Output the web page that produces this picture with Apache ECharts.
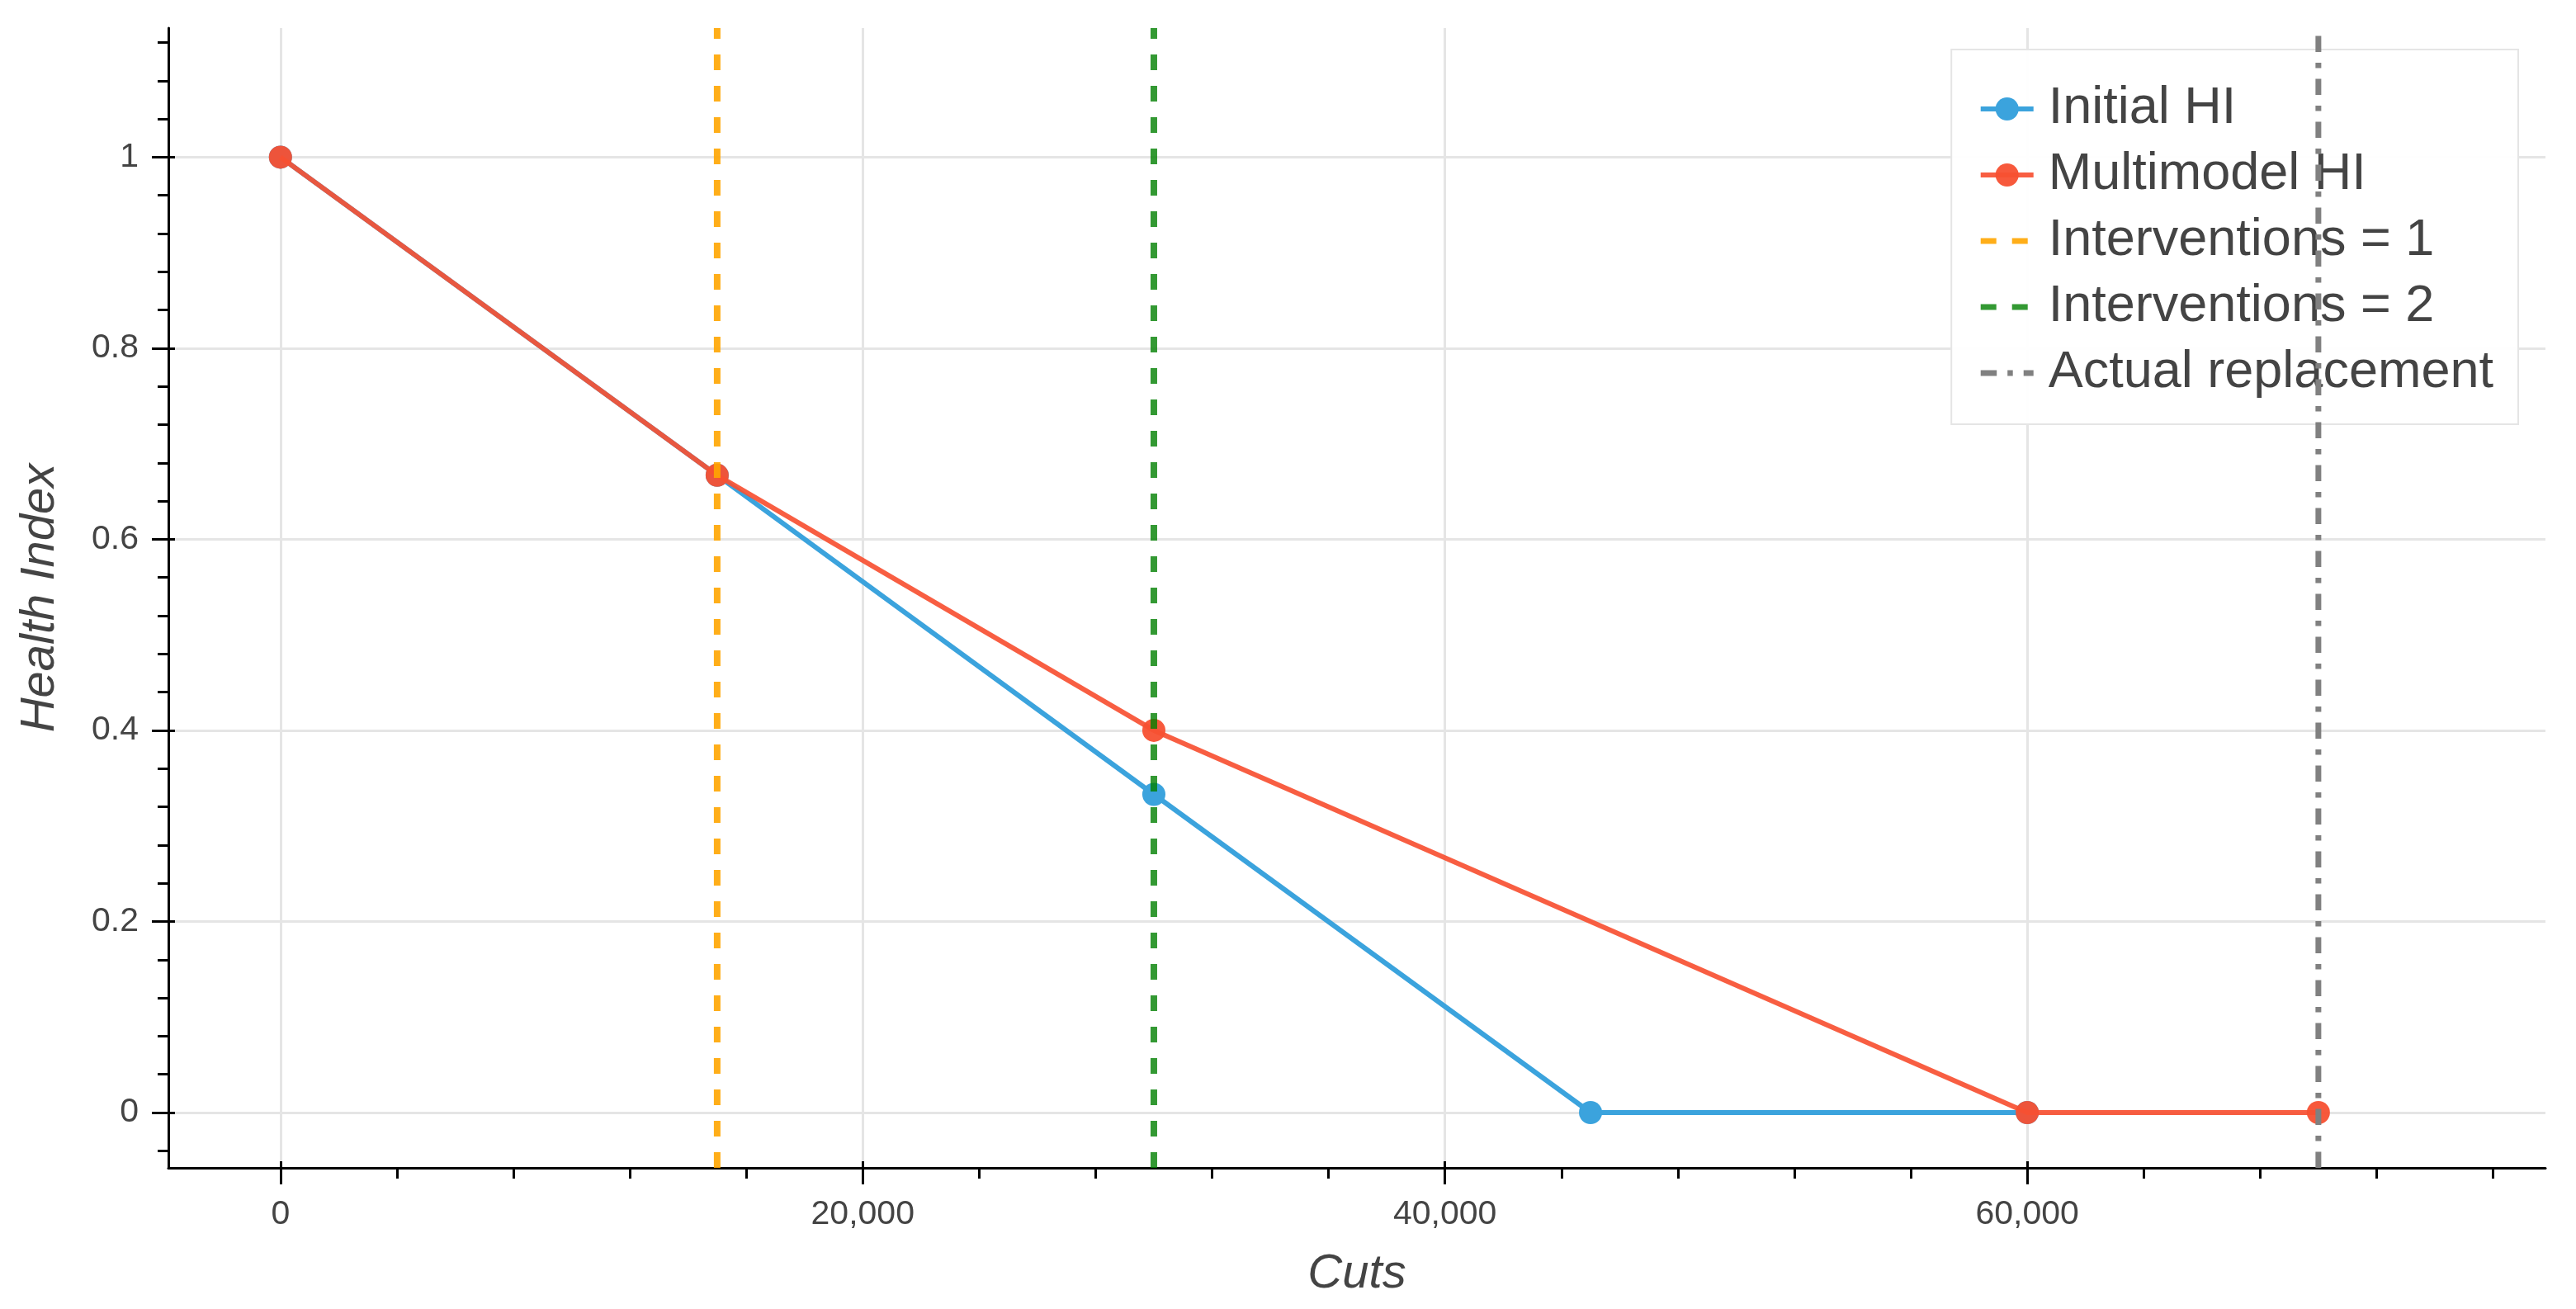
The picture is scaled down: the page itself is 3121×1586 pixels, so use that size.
<!DOCTYPE html>
<html>
<head>
<meta charset="utf-8">
<script src="https://cdn.jsdelivr.net/npm/echarts@6/dist/echarts.min.js"></script>
<style>
  html, body { margin: 0; padding: 0; background: #fff; }
  #chart { width: 3121px; height: 1586px; }
</style>
</head>
<body>
<div id="chart"></div>
<script>
// ---- data ----
const initialCuts = [0, 15000, 30000, 45000, 60000];
const initialHI = [1, 0.667, 0.333, 0, 0];
const multimodelCuts = [0, 15000, 30000, 60000, 70000];
const multimodelHI = [1, 0.667, 0.4, 0, 0];
const intervention1Cut = 15000;
const intervention2Cut = 30000;
const replacementCut = 70000;
const xTickValues = [0, 20000, 40000, 60000];
const yTickValues = [0, 0.2, 0.4, 0.6, 0.8, 1];
const seriesNames = ['Initial HI', 'Multimodel HI', 'Interventions = 1', 'Interventions = 2', 'Actual replacement'];
const X_MIN = -3850, X_MAX = 77800;
const Y_MIN = -0.0579, Y_MAX = 1.1351;

const pairs = (xs, ys) => xs.map((x, i) => [x, ys[i]]);
const vline = x => [[x, Y_MIN], [x, Y_MAX]];

const FONT = 'Liberation Sans';
const TXT = '#444444';

function baseAxis(extra) {
  return Object.assign({
    type: 'value',
    axisLine: { show: true, onZero: false, lineStyle: { color: '#000', width: 3 } },
    minorTick: { show: true, splitNumber: 5, length: 13, lineStyle: { color: '#000', width: 3 } },
    splitLine: { show: true, lineStyle: { color: '#e5e5e5', width: 3 } },
    minorSplitLine: { show: false },
    nameTextStyle: { color: TXT, fontFamily: FONT, fontSize: 58, fontStyle: 'italic' }
  }, extra);
}
function innerAxis(extra) {
  return Object.assign({
    type: 'value',
    axisLine: { show: false, onZero: false },
    minorTick: { show: false },
    splitLine: { show: false },
    axisLabel: { show: false }
  }, extra);
}

const chart = echarts.init(document.getElementById('chart'), null, { renderer: 'canvas' });
const option = {
  animation: false,
  backgroundColor: '#ffffff',
  grid: { left: 204, right: 37, top: 34, bottom: 171, containLabel: false },
  xAxis: [
    baseAxis({
      min: X_MIN, max: X_MAX, position: 'bottom',
      name: 'Cuts', nameLocation: 'middle', nameGap: 100,
      axisTick: { show: true, inside: false, length: 20, customValues: xTickValues, lineStyle: { color: '#000', width: 3 } },
      axisLabel: { color: TXT, fontFamily: FONT, fontSize: 41, margin: 36, customValues: xTickValues }
    }),
    innerAxis({
      min: X_MIN, max: X_MAX, position: 'bottom',
      axisTick: { show: true, inside: true, length: 8, customValues: xTickValues, lineStyle: { color: '#000', width: 3 } }
    })
  ],
  yAxis: [
    baseAxis({
      min: Y_MIN, max: Y_MAX, position: 'left',
      name: 'Health Index', nameLocation: 'middle', nameGap: 126,
      axisTick: { show: true, inside: false, length: 20, customValues: yTickValues, lineStyle: { color: '#000', width: 3 } },
      axisLabel: { color: TXT, fontFamily: FONT, fontSize: 41, margin: 36, customValues: yTickValues }
    }),
    innerAxis({
      min: Y_MIN, max: Y_MAX, position: 'left',
      axisTick: { show: true, inside: true, length: 8, customValues: yTickValues, lineStyle: { color: '#000', width: 3 } }
    })
  ],
  legend: {
    orient: 'vertical',
    right: 70, top: 60,
    padding: [40, 30, 30, 32],
    itemGap: 16,
    itemWidth: 64,
    itemHeight: 35,
    backgroundColor: 'rgba(255,255,255,0.95)',
    borderColor: '#e5e5e5',
    borderWidth: 2,
    borderRadius: 0,
    textStyle: { color: TXT, fontFamily: FONT, fontSize: 63, lineHeight: 64, padding: [0, 0, 0, 13] },
    data: [
      { name: seriesNames[0], lineStyle: { width: 6 } },
      { name: seriesNames[1], lineStyle: { width: 6 } },
      { name: seriesNames[2], lineStyle: { width: 7 }, itemStyle: { opacity: 0, color: 'rgba(0,0,0,0)' } },
      { name: seriesNames[3], lineStyle: { width: 7 }, itemStyle: { opacity: 0, color: 'rgba(0,0,0,0)' } },
      { name: seriesNames[4], lineStyle: { width: 7 }, itemStyle: { opacity: 0, color: 'rgba(0,0,0,0)' } }
    ]
  },
  series: [
    {
      name: seriesNames[0], type: 'line', z: 2,
      data: pairs(initialCuts, initialHI),
      symbol: 'circle', symbolSize: 28, showSymbol: true,
      lineStyle: { color: '#3ba3dd', width: 6 },
      itemStyle: { color: '#3ba3dd' }
    },
    {
      name: seriesNames[1], type: 'line', z: 3,
      data: pairs(multimodelCuts, multimodelHI),
      symbol: 'circle', symbolSize: 28, showSymbol: true,
      lineStyle: { color: '#f75032', width: 6, opacity: 0.92 },
      itemStyle: { color: '#f75032', opacity: 0.95 }
    },
    {
      name: seriesNames[2], type: 'line', z: 4,
      data: vline(intervention1Cut),
      symbol: 'none',
      lineStyle: { color: '#ffa500', width: 8, type: [19, 19], opacity: 0.9 },
      itemStyle: { color: '#ffa500' }
    },
    {
      name: seriesNames[3], type: 'line', z: 4,
      data: vline(intervention2Cut),
      symbol: 'none',
      lineStyle: { color: '#008000', width: 8, type: [19, 19], opacity: 0.8 },
      itemStyle: { color: '#008000' }
    },
    {
      name: seriesNames[4], type: 'line', z: 4,
      data: vline(replacementCut),
      symbol: 'none',
      lineStyle: { color: '#808080', width: 7, type: [19.5, 13, 6.5, 13] },
      itemStyle: { color: '#808080' }
    }
  ]
};
chart.setOption(option);
</script>
</body>
</html>
